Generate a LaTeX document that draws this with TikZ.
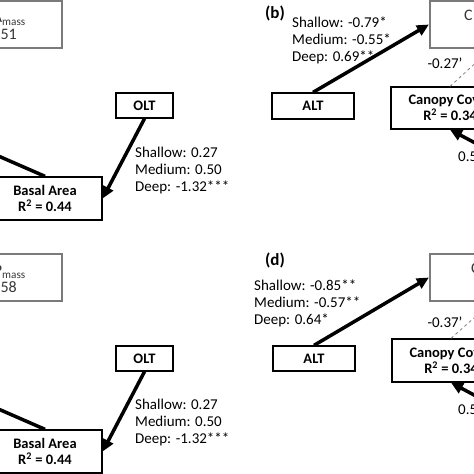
\documentclass[tikz,border=0pt]{standalone}
\usepackage{fontspec}
\setmainfont{Carlito}
\usetikzlibrary{arrows.meta}
\definecolor{BoxGrey}{HTML}{7A7A7A}
\definecolor{TextGrey}{HTML}{383838}
\tikzset{
  var/.style={draw=black, line width=1.3bp, fill=white, inner sep=0pt, align=center,
    font=\fontsize{14.5bp}{16bp}\selectfont\bfseries},
  trait/.style={draw=BoxGrey, line width=2.2bp, fill=white, inner sep=0pt,
    minimum width=200bp, minimum height=47bp},
  traittxt/.style={text=TextGrey, inner sep=0pt, font=\fontsize{16bp}{17bp}\selectfont},
  coef/.style={anchor=north west, inner sep=0pt, align=left,
    font=\fontsize{15bp}{17bp}\selectfont},
  effect/.style={line width=3.5bp, -{Triangle[length=12bp,width=11bp]}},
  weak/.style={draw=gray, dashed, line width=0.8bp},
  panel/.style={inner sep=0pt, font=\fontsize{17bp}{17bp}\selectfont\bfseries}
}
\begin{document}
\begin{tikzpicture}[x=1bp,y=-1bp]
\useasboundingbox (0,0) rectangle (474,474);
\clip (0,0) rectangle (474,474);

% (a)
\node[trait] (traitA) at (-38,24.5) {};
\node[traittxt, align=right, anchor=east] (traitAtxt) at (26,26)
  {A\textsubscript{mass}\\R\textsuperscript{2} = 0.51\kern9bp};
\node[var, minimum width=57bp, minimum height=25bp] (oltA) at (144.5,105.5) {OLT};
\node[var, minimum width=114bp, minimum height=43bp] (basalA) at (45,198.5)
  {Basal Area\\R\textsuperscript{2} = 0.44};
\coordinate (offA) at (-20,148);
\draw[line width=3.5bp] (basalA.north) -- (offA);
\draw[effect] (oltA.south) -- (basalA.east);
\node[coef] (coefA) at (135,147) {Shallow: 0.27\\Medium: 0.50\\Deep: -1.32***};

% (b)
\node[panel] (labB) at (275,13) {(b)};
\node[trait] (traitB) at (530,24.5) {};
\node[traittxt, anchor=west] (traitBtxt) at (464,15) {C};
\node[var, minimum width=82bp, minimum height=26bp] (altB) at (313,106) {ALT};
\node[var, minimum width=118bp, minimum height=42bp] (canB) at (450,108)
  {Canopy Cover\\R\textsuperscript{2} = 0.34};
\coordinate (srcB) at (530,172);
\coordinate (endB) at (492,48);
\draw[effect] (altB.north) -- (traitB.west);
\draw[weak] (canB.north) -- (endB);
\draw[effect] (srcB) -- (canB.south);
\node[coef] (coefB) at (292,17) {Shallow: -0.79*\\Medium: -0.55*\\Deep: 0.69**};
\node[inner sep=0pt, font=\fontsize{15bp}{17bp}\selectfont] (wB) at (445,63) {-0.27’};
\node[inner sep=0pt, anchor=west, font=\fontsize{15bp}{17bp}\selectfont] (sB) at (458,157) {0.5};

% (c)
\node[trait] (traitC) at (-38,277.5) {};
\node[traittxt, align=right, anchor=east] (traitCtxt) at (26,279)
  {P\textsubscript{mass}\\R\textsuperscript{2} = 0.58\kern9bp};
\node[var, minimum width=57bp, minimum height=25bp] (oltC) at (144.5,358.5) {OLT};
\node[var, minimum width=114bp, minimum height=43bp] (basalC) at (45,451.5)
  {Basal Area\\R\textsuperscript{2} = 0.44};
\coordinate (offC) at (-20,401);
\draw[line width=3.5bp] (basalC.north) -- (offC);
\draw[effect] (oltC.south) -- (basalC.east);
\node[coef] (coefC) at (135,399) {Shallow: 0.27\\Medium: 0.50\\Deep: -1.32***};

% (d)
\node[panel] (labD) at (275,260) {(d)};
\node[trait] (traitD) at (530,277.5) {};
\node[traittxt, anchor=west] (traitDtxt) at (471,268) {C};
\node[var, minimum width=82bp, minimum height=25bp] (altD) at (314,358.5) {ALT};
\node[var, minimum width=118bp, minimum height=43bp] (canD) at (451,360.5)
  {Canopy Cover\\R\textsuperscript{2} = 0.34};
\coordinate (srcD) at (530,425);
\coordinate (endD) at (493,301);
\draw[effect] (altD.north) -- (traitD.west);
\draw[weak] (canD.north) -- (endD);
\draw[effect] (srcD) -- (canD.south);
\node[coef] (coefD) at (254,280) {Shallow: -0.85**\\Medium: -0.57**\\Deep: 0.64*};
\node[inner sep=0pt, font=\fontsize{15bp}{17bp}\selectfont] (wD) at (445,322) {-0.37’};
\node[inner sep=0pt, anchor=west, font=\fontsize{15bp}{17bp}\selectfont] (sD) at (458,410) {0.5};
\end{tikzpicture}
\end{document}
